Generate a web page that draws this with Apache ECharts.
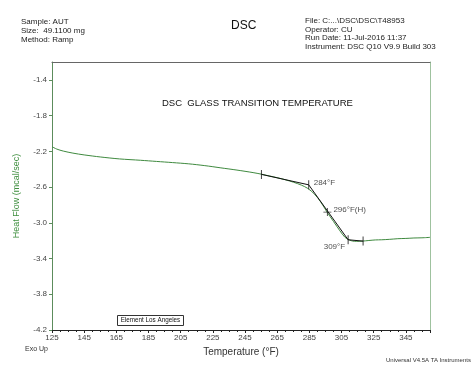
<!DOCTYPE html>
<html><head><meta charset="utf-8">
<script src="https://cdn.jsdelivr.net/npm/echarts@6/dist/echarts.min.js"></script>
<style>html,body{margin:0;padding:0;background:#fff}#c{width:474px;height:366px}</style>
</head><body><div id="c"></div>
<script>
// Main DSC trace: temperature (°F) and heat flow (mcal/sec)
const temps = [125,128,132,138,145,155,167,180,190,200,210,220,230,240,250,255,260,265,270,275,280,284,288,292,296,300,304,307,309,311,313,316,318,322,326,330,335,340,345,350,355,360];
const heatFlow = [-2.148,-2.175,-2.197,-2.22,-2.24,-2.263,-2.285,-2.30,-2.313,-2.326,-2.34,-2.36,-2.385,-2.41,-2.438,-2.455,-2.475,-2.495,-2.518,-2.545,-2.578,-2.615,-2.675,-2.765,-2.88,-2.985,-3.09,-3.16,-3.185,-3.2,-3.207,-3.207,-3.205,-3.198,-3.192,-3.19,-3.185,-3.178,-3.175,-3.17,-3.168,-3.163];
// Glass transition analysis construction
const tangentT = [255.2, 284.6, 309.1, 318.4];
const tangentY = [-2.458, -2.575, -3.19, -3.205];
const tickT = [255.2, 284.6, 309.1, 318.4];
const tickY = [-2.458, -2.575, -3.19, -3.205];
const midT = 296.2, midY = -2.88;
const annotations = [
  {t: 284.6, y: -2.575, text: '284°F'},
  {t: 296.2, y: -2.88, text: '296°F(H)'},
  {t: 309.1, y: -3.19, text: '309°F'}
];
const xTicks = {min: 125, max: 360, interval: 20};
const yTicks = {min: -4.2, max: -1.2, interval: 0.4};

const font = 'Arial, "Liberation Sans", sans-serif';
const chart = echarts.init(document.getElementById('c'), null, {renderer: 'canvas'});
const curve = temps.map((t, i) => [t, heatFlow[i]]);
const tangent = tangentT.map((t, i) => [t, tangentY[i]]);
const ticks = tickT.map((t, i) => [t, tickY[i]]);
const annData = annotations.map(a => {
  const d = {value: [a.t, a.y], name: a.text};
  if (a.text === '309°F') d.label = {position: 'left', offset: [2, 7]};
  if (a.text === '296°F(H)') d.label = {offset: [1, -2]};
  return d;
});

chart.setOption({
  animation: false,
  backgroundColor: '#fff',
  grid: {left: 52, top: 62, right: 44, bottom: 36},
  xAxis: [{
    type: 'value', min: xTicks.min, max: xTicks.max, interval: xTicks.interval,
    name: 'Temperature (°F)', nameLocation: 'middle', nameGap: 17,
    nameTextStyle: {fontFamily: font, fontSize: 10, color: '#333'},
    axisLine: {lineStyle: {color: '#222', width: 1}},
    axisTick: {show: true, length: 3, lineStyle: {color: '#222'}},
    minorTick: {show: true, splitNumber: 4, length: 2, lineStyle: {color: '#222'}},
    axisLabel: {fontFamily: font, fontSize: 8, color: '#444', margin: 4, showMaxLabel: false},
    splitLine: {show: false}
  }, {
    type: 'value', position: 'top', min: xTicks.min, max: xTicks.max,
    axisLine: {show: true, lineStyle: {color: '#666'}},
    axisTick: {show: false}, axisLabel: {show: false}, splitLine: {show: false}
  }],
  yAxis: [{
    type: 'value', min: yTicks.min, max: yTicks.max, interval: yTicks.interval,
    name: 'Heat Flow (mcal/sec)', nameLocation: 'middle', nameGap: 31, nameRotate: 90,
    nameTextStyle: {fontFamily: font, fontSize: 9, color: '#3f8f3f'},
    axisLine: {show: true, lineStyle: {color: '#5c8c5c'}},
    axisTick: {show: true, length: 3, lineStyle: {color: '#5c8c5c'}},
    axisLabel: {fontFamily: font, fontSize: 8, color: '#444', margin: 5, showMaxLabel: false,
      formatter: v => v.toFixed(1)},
    splitLine: {show: false}
  }, {
    type: 'value', position: 'right', min: yTicks.min, max: yTicks.max,
    axisLine: {show: true, lineStyle: {color: '#9fc29f'}},
    axisTick: {show: false}, axisLabel: {show: false}, splitLine: {show: false}
  }],
  series: [{
    type: 'line', data: curve, showSymbol: false, smooth: 0.3,
    lineStyle: {color: '#3f8a3f', width: 1}, z: 2
  }, {
    type: 'line', data: tangent, showSymbol: false,
    lineStyle: {color: '#111', width: 1}, z: 3
  }, {
    type: 'scatter', data: ticks, symbol: 'rect', symbolSize: [1, 9],
    itemStyle: {color: '#111'}, z: 4
  }, {
    type: 'scatter', data: [[midT, midY]],
    symbol: 'path://M4,0H5V9H4Z M0,4H9V5H0Z', symbolSize: 8,
    itemStyle: {color: '#111'}, z: 4
  }, {
    type: 'scatter', data: annData, symbolSize: 0, z: 5,
    label: {show: true, fontFamily: font, fontSize: 8, color: '#222',
      formatter: p => p.name, position: 'right', offset: [0, -2]}
  }],
  graphic: [
    {type: 'text', left: 21, top: 17, style: {text: 'Sample: AUT\nSize:  49.1100 mg\nMethod: Ramp', font: '8px ' + font, fill: '#222', lineHeight: 9}},
    {type: 'text', left: 231, top: 20, style: {text: 'DSC', font: '12px ' + font, fill: '#111'}},
    {type: 'text', left: 305, top: 17, style: {text: 'File: C:...\\DSC\\DSC\\T48953\nOperator: CU\nRun Date: 11-Jul-2016 11:37\nInstrument: DSC Q10 V9.9 Build 303', font: '8px ' + font, fill: '#222', lineHeight: 8.4}},
    {type: 'text', left: 162, top: 98, style: {text: 'DSC  GLASS TRANSITION TEMPERATURE', font: '9.5px ' + font, fill: '#111'}},
    {type: 'group', left: 117, top: 315, children: [
      {type: 'rect', shape: {x: 0, y: 0, width: 66, height: 10}, style: {fill: '#fff', stroke: '#333', lineWidth: 1}},
      {type: 'text', x: 33, y: 5, style: {text: 'Element Los Angeles', font: '6.3px ' + font, fill: '#111', align: 'center', verticalAlign: 'middle'}}
    ]},
    {type: 'text', left: 25, top: 346, style: {text: 'Exo Up', font: '7px ' + font, fill: '#333'}},
    {type: 'text', left: 386, top: 357, style: {text: 'Universal V4.5A TA Instruments', font: '6px ' + font, fill: '#333'}}
  ]
});
</script></body></html>
